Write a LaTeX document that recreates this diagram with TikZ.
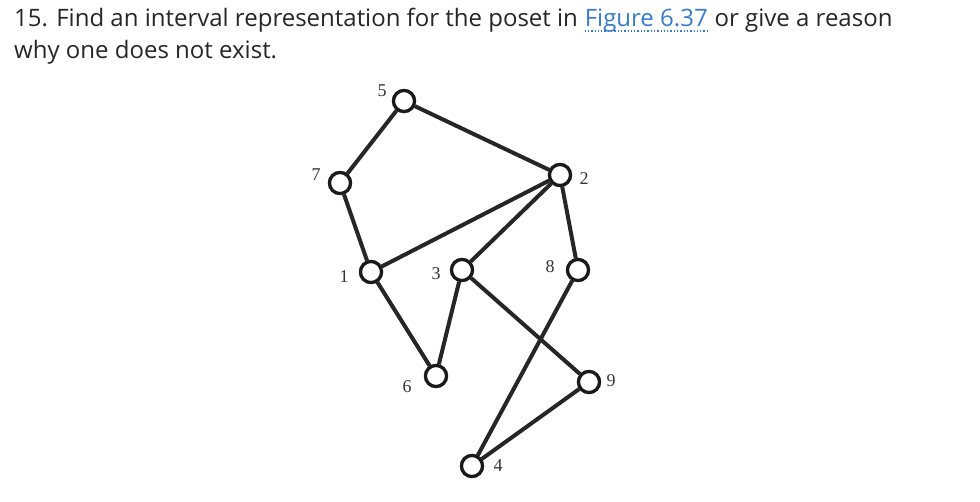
\documentclass[tikz,border=0pt]{standalone}
\usepackage{fontspec}
\setmainfont{Open Sans}
\newfontfamily\lab{Liberation Serif}
\begin{document}
\begin{tikzpicture}[x=1pt,y=-1pt,
  pt/.style={circle,draw=black!90,line width=3.2pt,fill=white,minimum size=21pt,inner sep=0pt},
  edge/.style={line width=4pt,draw=black!85},
  txt/.style={inner sep=0pt,font=\fontsize{24}{28}\selectfont,text=black!85},
  lbl/.style={font=\lab\fontsize{18}{18}\selectfont,text=black!80,inner sep=0pt}]
\useasboundingbox (0,0) rectangle (980,501);
\node[txt,anchor=base west] (t1) at (14,26) {15. Find an interval representation for the poset in};
\node[txt,anchor=base west,text={rgb,255:red,58;green,123;blue,200}] (lk) at ([xshift=6.5pt]t1.base east) {Figure 6.37};
\node[txt,anchor=base west] (t1b) at ([xshift=6.5pt]lk.base east) {or give a reason};
\draw[dotted,line width=1.3pt,draw={rgb,255:red,58;green,123;blue,200}] ([yshift=-5pt]lk.base west) -- ([yshift=-5pt]lk.base east);
\node[txt,anchor=base west] (t2) at (14,58) {why one does not exist.};
\node[pt] (n5) at (404,101) {};
\node[pt] (n7) at (340,183) {};
\node[pt] (n2) at (560,175) {};
\node[pt] (n1) at (371,272) {};
\node[pt] (n3) at (462,270) {};
\node[pt] (n8) at (578,270) {};
\node[pt] (n6) at (436,376) {};
\node[pt] (n9) at (589,382) {};
\node[pt] (n4) at (472,466) {};
\foreach \a/\b in {n5/n7,n5/n2,n7/n1,n1/n2,n2/n3,n2/n8,n1/n6,n3/n6,n3/n9,n8/n4,n9/n4}
  \draw[edge] (\a) -- (\b);
\foreach \n in {n5,n7,n2,n1,n3,n8,n6,n9,n4} \node[pt] at (\n) {};
\node[lbl] (l5) at (382,91) {5};
\node[lbl] (l7) at (316,175) {7};
\node[lbl] (l2) at (584,179) {2};
\node[lbl] (l1) at (344,277) {1};
\node[lbl] (l3) at (436,274) {3};
\node[lbl] (l8) at (550,267) {8};
\node[lbl] (l6) at (407,387) {6};
\node[lbl] (l9) at (611,381) {9};
\node[lbl] (l4) at (498,466) {4};
\end{tikzpicture}
\end{document}
